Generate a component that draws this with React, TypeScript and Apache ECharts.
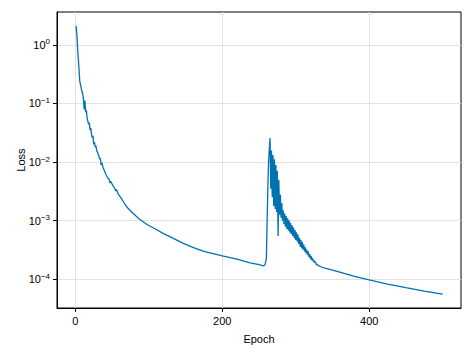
import React, { useEffect, useRef } from "react";
import * as echarts from "echarts";

// Epochs (sampled where the curve is smooth, every epoch where it oscillates)
const epochs: number[] = [
  1, 2, 3, 6, 8, 10, 11, 12, 13, 14, 15, 16, 17, 18, 19, 20, 21, 22, 23, 24, 25,
  26, 27, 28, 29, 30, 32, 33, 34, 35, 36, 37, 38, 40, 42, 44, 46, 47, 48, 50, 52,
  54, 55, 56, 58, 62, 66, 71, 78, 87, 97, 109, 120, 132, 147, 160, 175, 200, 220,
  238, 250, 256, 258, 260, 261, 262, 263, 264, 265, 266, 267, 268, 269, 270, 271,
  272, 273, 274, 275, 276, 277, 278, 279, 280, 281, 282, 283, 284, 285, 286, 287,
  288, 289, 290, 291, 292, 293, 294, 295, 296, 297, 298, 299, 300, 301, 302, 303,
  304, 305, 306, 307, 308, 309, 310, 311, 312, 313, 314, 315, 316, 317, 318, 319,
  320, 321, 322, 323, 324, 325, 326, 327, 328, 330, 335, 340, 360, 380, 400, 425,
  450, 475, 500,
];

const loss: number[] = [
  2.1, 1.5, 0.89, 0.24, 0.18, 0.145, 0.117, 0.079, 0.112, 0.071, 0.076, 0.056, 0.05,
  0.044, 0.047, 0.035, 0.038, 0.03, 0.026, 0.028, 0.02, 0.022, 0.018, 0.019, 0.0158,
  0.0148, 0.0126, 0.0112, 0.0117, 0.0089, 0.0098, 0.0087, 0.0079, 0.0069, 0.006,
  0.0054, 0.005, 0.0044, 0.0047, 0.0042, 0.0038, 0.0035, 0.0032, 0.0034, 0.0029,
  0.00245, 0.00204, 0.00166, 0.00135, 0.00107, 0.00087, 0.00072, 0.0006, 0.00051,
  0.00041, 0.00035, 0.0003, 0.00025, 0.00022, 0.00019, 0.000178, 0.00017, 0.000174,
  0.00022, 0.00089, 0.0035, 0.0098, 0.0166, 0.0257, 0.0035, 0.0158, 0.0025, 0.0132,
  0.00178, 0.0112, 0.00158, 0.0089, 0.00141, 0.0071, 0.00055, 0.005, 0.00126, 0.0028,
  0.00112, 0.002, 0.001, 0.00151, 0.00087, 0.00132, 0.00079, 0.0012, 0.00072, 0.0011,
  0.00068, 0.001, 0.00063, 0.00091, 0.00059, 0.00083, 0.00055, 0.00076, 0.0005,
  0.00069, 0.00047, 0.00063, 0.00044, 0.00058, 0.0004, 0.00051, 0.00036, 0.00047,
  0.00034, 0.00043, 0.00032, 0.00039, 0.0003, 0.00035, 0.00028, 0.00032, 0.00026,
  0.0003, 0.00024, 0.00027, 0.00022, 0.00025, 0.00021, 0.00023, 0.0002, 0.00021,
  0.00019, 0.0002, 0.00018, 0.000174, 0.000162, 0.000155, 0.000132, 0.000112,
  0.000098, 0.000083, 0.000072, 0.000063, 0.000056,
];

const xTicks: number[] = [0, 200, 400];
const yTickExponents: number[] = [-4, -3, -2, -1, 0];

const FONT = "'Liberation Sans', Arial, Helvetica, sans-serif";

export default function App() {
  const ref = useRef<HTMLDivElement>(null);

  useEffect(() => {
    if (!ref.current) return;
    const chart = echarts.init(ref.current, undefined, { renderer: "svg" });
    const data = epochs.map((e, i) => [e, Math.log10(loss[i])]);
    chart.setOption({
      animation: false,
      backgroundColor: "#ffffff",
      grid: {
        left: 57,
        right: 13,
        top: 12,
        bottom: 47,
        show: true,
        borderColor: "#000000",
        borderWidth: 1,
        backgroundColor: "transparent",
      },
      xAxis: {
        type: "value",
        min: -25,
        max: 525,
        name: "Epoch",
        nameLocation: "middle",
        nameGap: 25,
        nameTextStyle: { fontFamily: FONT, fontSize: 11, color: "#000" },
        axisLine: { show: true, onZero: false, lineStyle: { color: "#000", width: 1 } },
        axisTick: {
          show: true,
          customValues: xTicks,
          inside: false,
          length: 4,
          lineStyle: { color: "#000", width: 1 },
        },
        axisLabel: {
          customValues: xTicks,
          margin: 7,
          fontFamily: FONT,
          fontSize: 11,
          color: "#000",
        },
        splitLine: { show: true, lineStyle: { color: "#e2e2e2", width: 1 } },
      },
      yAxis: {
        type: "value",
        min: -4.49,
        max: 0.56,
        name: "Loss",
        nameLocation: "middle",
        nameGap: 31,
        nameMoveOverlap: false,
        nameRotate: 90,
        nameTextStyle: { fontFamily: FONT, fontSize: 11, color: "#000" },
        axisLine: { show: true, onZero: false, lineStyle: { color: "#000", width: 1 } },
        axisTick: {
          show: true,
          customValues: yTickExponents,
          inside: false,
          length: 4,
          lineStyle: { color: "#000", width: 1 },
        },
        axisLabel: {
          customValues: yTickExponents,
          margin: 7,
          fontFamily: FONT,
          fontSize: 11,
          lineHeight: 14,
          color: "#000",
          formatter: (v: number) => {
            const n = Math.round(v);
            return n === 0 ? "10{sup|0}" : "10{sup|\u2212" + -n + "}";
          },
          rich: {
            sup: {
              fontFamily: FONT,
              fontSize: 8,
              lineHeight: 8,
              verticalAlign: "top",
              color: "#000",
            },
          },
        },
        splitLine: { show: true, lineStyle: { color: "#e2e2e2", width: 1 } },
      },
      series: [
        {
          type: "line",
          data,
          showSymbol: false,
          symbol: "none",
          lineStyle: { color: "#0072B2", width: 1.3 },
          itemStyle: { color: "#0072B2" },
        },
      ],
    });
    return () => chart.dispose();
  }, []);

  return (
    <div
      ref={ref}
      style={{ position: "fixed", left: 0, top: 0, width: 474, height: 355 }}
    />
  );
}
